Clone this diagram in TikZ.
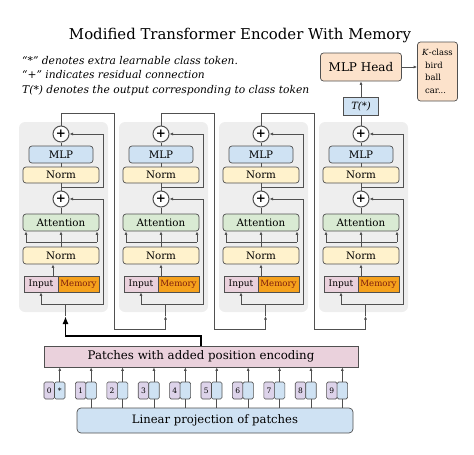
\documentclass[tikz,border=0pt]{standalone}
\usepackage{fontspec}
\setmainfont{DejaVu Serif}
\usetikzlibrary{arrows.meta}

\definecolor{edge}{HTML}{505050}
\definecolor{blockbg}{HTML}{EEEEEE}
\definecolor{mlpblue}{HTML}{CFE2F3}
\definecolor{normyellow}{HTML}{FFF2CC}
\definecolor{attgreen}{HTML}{D9EAD3}
\definecolor{inpink}{HTML}{EAD1DC}
\definecolor{memorange}{HTML}{F5A11C}
\definecolor{memtext}{HTML}{7A1A0E}
\definecolor{headpeach}{HTML}{FCE2CB}
\definecolor{numpurple}{HTML}{DDD3EA}

\tikzset{
  box/.style={draw=edge, rounded corners=3pt, line width=0.7pt, inner sep=0pt,
    minimum height=17pt, font=\fontsize{10.3}{11}\selectfont},
  add/.style={draw=edge, circle, fill=white, line width=1pt, inner sep=0pt,
    minimum size=16pt, font=\fontsize{12}{12}\bfseries},
  wire/.style={draw=edge, line width=0.7pt},
  arr/.style={wire, -{Latex[length=3.5pt,width=3pt]}},
  tokbox/.style={draw=edge, rounded corners=1.5pt, line width=0.6pt, inner sep=0pt,
    minimum width=10.5pt, minimum height=17pt, font=\fontsize{7.5}{8}\selectfont},
}

\begin{document}
\begin{tikzpicture}[x=1pt, y=-1pt]
\useasboundingbox (0,0) rectangle (474,455);

\node (title) at (240,35) {\fontsize{14.9}{18}\selectfont Modified Transformer Encoder With Memory};
\node (legend) [anchor=west, align=left, inner sep=0pt, font=\itshape\fontsize{10.7}{14.5}\selectfont] at (22,76)
  {“*” denotes extra learnable class token.\\
   “+” indicates residual connection\\
   T(*) denotes the output corresponding to class token};

% encoder blocks
\foreach \k/\cx/\ax in {1/61/53, 2/161/161, 3/261/261, 4/361/361} {
  \fill[blockbg, rounded corners=6pt] (\cx-42,122) rectangle (\cx+47,312);
  \node (plusB\k) [add] at (\cx,134) {+};
  \node (mlp\k) [box, fill=mlpblue, minimum width=64pt] at (\cx,154.5) {MLP};
  \node (normB\k) [box, fill=normyellow, minimum width=76pt, minimum height=16pt] at (\cx,175) {Norm};
  \node (plusA\k) [add] at (\cx,199) {+};
  \node (att\k) [box, fill=attgreen, minimum width=76pt] at (\cx,222.5) {Attention};
  \node (normA\k) [box, fill=normyellow, minimum width=76pt] at (\cx,255.5) {Norm};
  \node (inp\k) [box, rounded corners=0pt, fill=inpink, minimum width=34pt, minimum height=16pt,
    font=\fontsize{9}{9}\selectfont] at (\cx-20,284) {Input};
  \node (mem\k) [box, rounded corners=0pt, fill=memorange, text=memtext, minimum width=41pt,
    minimum height=16pt, font=\fontsize{8.6}{9}\selectfont] at (\cx+17.5,284) {Memory};

  \coordinate (in\k) at (\cx+4.5,304);
  \coordinate (r\k) at (\cx+42,304);
  \coordinate (s\k) at (\cx,187);
  \coordinate (aL\k) at (\cx-35,242);
  \coordinate (aR\k) at (\cx+36,242);
  \coordinate (up\k) at (\ax,276);
  \coordinate (out\k) at (\cx+53.5,113);
  \coordinate (down\k) at (\cx+53.5,329);
  \coordinate (tip\k) at (\cx+4.5,316);

  \draw[wire] (att\k.north) -- (plusA\k.south);
  \draw[wire] (plusA\k.north) -- (normB\k.south);
  \draw[wire] (normB\k.north) -- (mlp\k.south);
  \draw[wire] (mlp\k.north) -- (plusB\k.south);
  \draw[arr] (normA\k.north) -- (att\k.south);
  \draw[wire] (aL\k) -- (aR\k);
  \draw[arr] (aL\k) -- (aL\k |- att\k.south);
  \draw[arr] (aR\k) -- (aR\k |- att\k.south);
  \draw[arr] (up\k) -- (up\k |- normA\k.south);
  \draw[arr] (in\k) -| (inp\k.south);
  \draw[arr] (in\k) -- (r\k) |- (plusA\k.east);
  \draw[arr] (s\k) -- ++(42,0) |- (plusB\k.east);
  \draw[wire] (tip\k) -- (in\k);
}

% block to block
\foreach \k/\n in {1/2, 2/3, 3/4}
  \draw[arr] (plusB\k.north) |- (out\k) -- (down\k) -| (tip\n);

% classification head
\node (tstar) [box, rounded corners=0pt, fill=mlpblue, minimum width=35pt, minimum height=18pt,
  font=\itshape\fontsize{10}{10}\selectfont] at (361,106) {T(*)};
\node (head) [box, fill=headpeach, minimum width=81pt, minimum height=28pt,
  font=\fontsize{12}{12}\selectfont] at (361,67) {MLP Head};
\node (kcls) [box, fill=headpeach, minimum width=40pt, minimum height=59pt, align=left,
  font=\fontsize{8.4}{12.5}\selectfont] at (437.5,71.5)
  {\textit{K}-class\\\hspace*{3pt}bird\\\hspace*{3pt}ball\\\hspace*{3pt}car...};
\draw[wire] (plusB4.north) -- (tstar.south);
\draw[arr] (tstar.north) -- (head.south);
\draw[arr] (head.east) -- (head.east -| kcls.west);

% patches and tokens
\node (patches) [box, rounded corners=0pt, fill=inpink, minimum width=314pt, minimum height=21pt,
  font=\fontsize{11.8}{12}\selectfont] at (201,356.5) {Patches with added position encoding};
\node (linear) [box, rounded corners=4pt, fill=mlpblue, minimum width=276pt, minimum height=25pt,
  font=\fontsize{11.6}{12}\selectfont] at (215,420.5) {Linear projection of patches};

\foreach \i [evaluate=\i as \tx using 44+31.4*\i] in {0,...,9} {
  \node (num\i) [tokbox, fill=numpurple] at (\tx+5.25,390.5) {\i};
  \node (tok\i) [tokbox, fill=mlpblue] at (\tx+15.75,390.5) {\ifnum\i=0 *\fi};
  \draw[arr] (tok\i.north) -- (tok\i.north |- patches.south);
  \ifnum\i>0 \draw[wire] (tok\i.south) -- (tok\i.south |- linear.north); \fi
}

\draw[line width=1.7pt, draw=black, -{Latex[length=8pt,width=6pt]}]
  (patches.north) -- ++(0,-10) -| (tip1);
\end{tikzpicture}
\end{document}
